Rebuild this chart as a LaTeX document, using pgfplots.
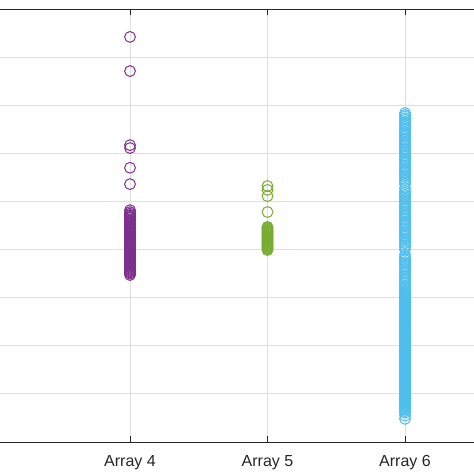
\documentclass[border=0pt]{standalone}
\usepackage{pgfplots}
\usepackage{pgfplotstable}
\pgfplotsset{compat=1.18}
\usepackage{fontspec}
\setmainfont{Liberation Sans}
\definecolor{mpurple}{RGB}{126,47,142}
\definecolor{mgreen}{RGB}{119,172,48}
\definecolor{mblue}{RGB}{77,190,238}
\definecolor{gridc}{RGB}{223,223,223}
\definecolor{axc}{RGB}{38,38,38}
\pgfplotstableread{
y
8.42
7.71
6.17
6.11
5.70
5.36
4.82
4.78
4.75
4.72
4.70
4.68
4.66
4.63
4.61
4.59
4.57
4.55
4.53
4.51
4.49
4.47
4.45
4.43
4.41
4.39
4.37
4.35
4.33
4.30
4.28
4.26
4.24
4.22
4.20
4.18
4.16
4.14
4.12
4.10
4.08
4.06
4.04
4.02
4.00
3.98
3.96
3.94
3.92
3.90
3.88
3.86
3.84
3.82
3.80
3.78
3.76
3.74
3.72
3.70
3.68
3.66
3.64
3.62
3.60
3.58
3.56
3.54
3.52
3.50
3.47
}\arrayfour
\pgfplotstableread{
y
5.32
5.24
5.11
4.78
4.47
4.45
4.43
4.41
4.39
4.37
4.35
4.33
4.31
4.29
4.27
4.25
4.23
4.21
4.19
4.17
4.15
4.13
4.11
4.09
4.07
4.05
4.03
4.01
3.99
}\arrayfive
\pgfplotstableread{
y
6.84
6.80
6.77
6.73
6.70
6.66
6.63
6.59
6.56
6.52
6.49
6.45
6.42
6.38
6.35
6.31
6.28
6.24
6.21
6.17
6.14
6.10
6.07
6.03
6.00
5.96
5.93
5.89
5.86
5.82
5.79
5.75
5.72
5.68
5.65
5.61
5.58
5.54
5.51
5.47
5.44
5.40
5.36
5.28
5.22
5.18
5.14
5.11
5.07
5.04
5.00
4.97
4.93
4.90
4.86
4.83
4.79
4.76
4.72
4.69
4.65
4.62
4.58
4.55
4.51
4.48
4.44
4.41
4.37
4.34
4.30
4.27
4.23
4.20
4.16
4.13
4.09
4.05
4.00
3.90
3.85
3.81
3.78
3.74
3.71
3.67
3.64
3.60
3.57
3.53
3.50
3.46
3.43
3.39
3.36
3.32
3.29
3.25
3.22
3.18
3.15
3.12
3.10
3.08
3.06
3.03
3.01
2.99
2.97
2.95
2.93
2.91
2.89
2.87
2.85
2.83
2.81
2.79
2.77
2.75
2.73
2.71
2.69
2.67
2.65
2.63
2.61
2.59
2.57
2.55
2.53
2.51
2.49
2.47
2.45
2.43
2.41
2.39
2.37
2.35
2.33
2.31
2.29
2.27
2.25
2.23
2.21
2.19
2.17
2.15
2.13
2.11
2.09
2.07
2.05
2.03
2.01
1.99
1.97
1.95
1.93
1.91
1.89
1.87
1.85
1.83
1.81
1.79
1.77
1.75
1.73
1.71
1.69
1.67
1.65
1.63
1.61
1.59
1.57
1.55
1.53
1.51
1.49
1.47
1.45
1.43
1.41
1.39
1.37
1.35
1.33
1.31
1.29
1.27
1.25
1.23
1.21
1.19
1.17
1.15
1.13
1.11
1.09
1.07
1.05
1.03
1.01
0.99
0.97
0.95
0.93
0.91
0.89
0.87
0.85
0.83
0.81
0.79
0.77
0.75
0.73
0.71
0.69
0.67
0.64
0.61
0.55
0.48
}\arraysix
\begin{document}
\begin{tikzpicture}
\begin{axis}[
  scale only axis, width=474pt, height=433pt,
  xmin=3.0545, xmax=6.5018, ymin=0, ymax=9,
  xtick={4,5,6}, xticklabels={Array 4, Array 5, Array 6},
  ytick={0,1,2,3,4,5,6,7,8,9}, yticklabels={},
  grid=major, major grid style={gridc, line width=0.9pt},
  separate axis lines,
  x axis line style={axc, line width=0.9pt},
  y axis line style={draw=none},
  ytick style={draw=none},
  xtick style={axc, line width=0.9pt},
  tick align=inside, major tick length=6pt,
  xticklabel style={font=\fontsize{16}{19}\selectfont, text=axc, yshift=-10pt},
]
\addplot[only marks, mark=o, mark size=5.4pt, mpurple, mark options={line width=1pt}] table[x expr=4, y=y] {\arrayfour};
\addplot[only marks, mark=o, mark size=5.4pt, mgreen, mark options={line width=1pt}] table[x expr=5, y=y] {\arrayfive};
\addplot[only marks, mark=o, mark size=5.4pt, mblue, mark options={line width=1pt}] table[x expr=6, y=y] {\arraysix};
\end{axis}
\pgfresetboundingbox
\path ([yshift=-32pt]current axis.south west) rectangle ([yshift=9pt]current axis.north east);
\end{tikzpicture}
\end{document}
